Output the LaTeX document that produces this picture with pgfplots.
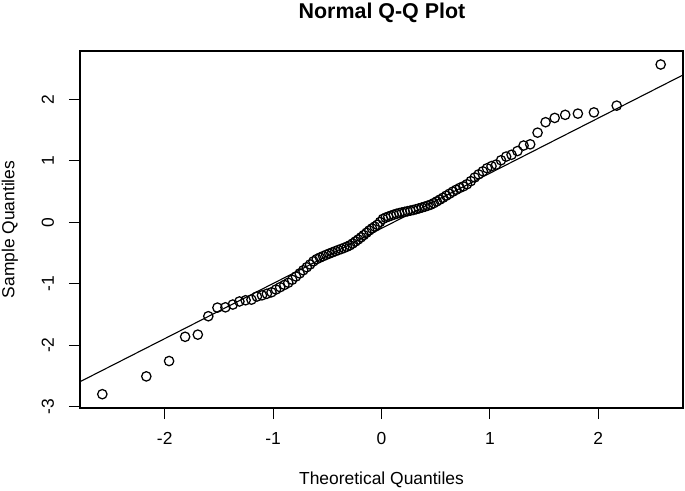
\documentclass[border=0pt]{standalone}
\usepackage{fontspec}
\setmainfont{Liberation Sans}
\usepackage{pgfplots}
\pgfplotsset{compat=1.18}

\begin{document}
\begin{tikzpicture}
\begin{axis}[
   scale only axis,
   width=603bp, height=357bp,
   xmin=-2.782, xmax=2.782,
   ymin=-3.025, ymax=2.79,
   axis line style={line width=1.1bp},
   xtick={-2,-1,0,1,2}, xticklabels={-2,-1,0,1,2},
   ytick={-3,-2,-1,0,1,2}, yticklabels={-3,-2,-1,0,1,2},
   xtick pos=left, ytick pos=left,
   tick align=outside,
   major tick length=11bp,
   tick style={line width=1.1bp, black},
   tick label style={font=\fontsize{17.5}{17.5}\selectfont},
   xticklabel style={anchor=base, yshift=-25bp},
   yticklabel shift=15bp,
   yticklabel style={rotate=90, anchor=base},
   label style={font=\fontsize{17.5}{17.5}\selectfont},
   xlabel={Theoretical Quantiles},
   xlabel style={at={(axis description cs:0.5,-0.2017)}, anchor=center},
   ylabel={Sample Quantiles},
   ylabel style={at={(axis description cs:-0.1161,0.5)}, anchor=center, rotate=0},
   title={Normal Q-Q Plot},
   title style={at={(axis description cs:0.5008,1.073)}, anchor=base, font=\bfseries\fontsize{21.5}{21.5}\selectfont},
]
\addplot[only marks, mark=o, mark size=4.7bp, mark options={line width=1.25bp, black}] table {
x y
-2.576 -2.80
-2.170 -2.51
-1.960 -2.26
-1.812 -1.865
-1.695 -1.83
-1.598 -1.53
-1.514 -1.39
-1.440 -1.385
-1.372 -1.34
-1.311 -1.29
-1.254 -1.27
-1.200 -1.26
-1.150 -1.21
-1.103 -1.19
-1.058 -1.165
-1.015 -1.14
-0.974 -1.095
-0.935 -1.057
-0.896 -1.02
-0.860 -0.985
-0.824 -0.936
-0.789 -0.883
-0.755 -0.833
-0.722 -0.782
-0.690 -0.733
-0.659 -0.687
-0.628 -0.636
-0.598 -0.600
-0.568 -0.575
-0.539 -0.552
-0.510 -0.530
-0.482 -0.510
-0.454 -0.490
-0.426 -0.470
-0.399 -0.452
-0.372 -0.435
-0.345 -0.417
-0.319 -0.398
-0.292 -0.375
-0.266 -0.345
-0.240 -0.312
-0.215 -0.280
-0.189 -0.245
-0.164 -0.209
-0.138 -0.17
-0.113 -0.133
-0.088 -0.10
-0.063 -0.07
-0.038 -0.040
-0.013 0.006
0.013 0.055
0.038 0.075
0.063 0.092
0.088 0.108
0.113 0.124
0.138 0.138
0.164 0.150
0.189 0.160
0.215 0.170
0.240 0.180
0.266 0.19
0.292 0.20
0.319 0.213
0.345 0.226
0.372 0.240
0.399 0.254
0.426 0.27
0.454 0.287
0.482 0.312
0.510 0.340
0.539 0.370
0.568 0.40
0.598 0.434
0.628 0.466
0.659 0.500
0.690 0.53
0.722 0.56
0.755 0.585
0.789 0.62
0.824 0.67
0.860 0.73
0.896 0.78
0.935 0.83
0.974 0.88
1.015 0.915
1.058 0.94
1.103 1.01
1.150 1.07
1.200 1.10
1.254 1.16
1.311 1.25
1.372 1.27
1.440 1.46
1.514 1.63
1.598 1.70
1.695 1.75
1.812 1.77
1.960 1.79
2.170 1.90
2.576 2.57
};
% qqline through the quartiles
\addplot[black, line width=1.1bp] coordinates {(-3,-2.793) (3,2.595)};
\end{axis}
\pgfresetboundingbox
\useasboundingbox (-80bp,-83bp) rectangle (605bp,408bp);
\end{tikzpicture}
\end{document}
